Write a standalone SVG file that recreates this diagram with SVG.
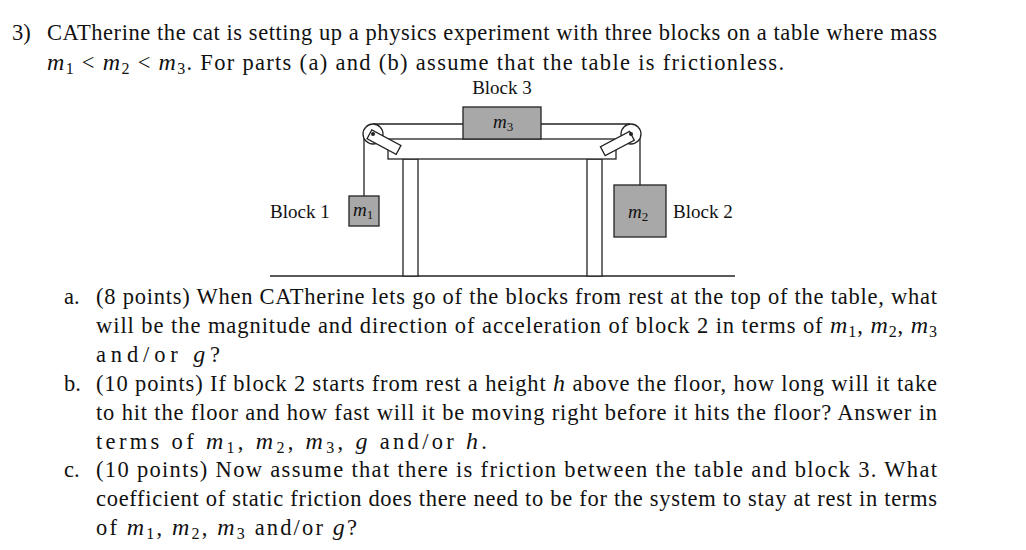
<svg xmlns="http://www.w3.org/2000/svg" width="1026" height="550" viewBox="0 0 1026 550">
<style>
text{font-family:"Liberation Serif","Times New Roman",serif;font-size:22.5px;fill:#111}
.m{font-style:italic;font-size:24px}
.s{font-size:16px}
.lbl{font-size:19px}
.sh{fill:#fff;stroke:#222;stroke-width:1.3}
.blk{fill:#a8a8a8;stroke:#222;stroke-width:1.3}
.rope{stroke:#222;stroke-width:1.3;fill:none}
</style>
<rect width="1026" height="550" fill="#fff"/>
<text x="12" y="40">3)</text>
<text x="47" y="40" textLength="890" lengthAdjust="spacing">CATherine the cat is setting up a physics experiment with three blocks on a table where mass</text>
<text x="47" y="70" textLength="737" lengthAdjust="spacing"><tspan class="m">m</tspan><tspan class="s" dy="4">1</tspan><tspan dy="-4"> &lt; </tspan><tspan class="m">m</tspan><tspan class="s" dy="4">2</tspan><tspan dy="-4"> &lt; </tspan><tspan class="m">m</tspan><tspan class="s" dy="4">3</tspan><tspan dy="-4">. For parts (a) and (b) assume that the table is frictionless.</tspan></text>
<g id="floor"><line class="rope" x1="270" y1="276" x2="735" y2="276"/></g>
<g id="table">
<rect class="sh" x="403" y="159" width="15" height="117"/>
<rect class="sh" x="587" y="159" width="15" height="117"/>
<rect class="sh" x="388" y="139" width="228" height="20"/>
</g>
<g id="connectors">
<line class="rope" x1="373" y1="124" x2="463" y2="124"/>
<line class="rope" x1="541" y1="124" x2="630" y2="124"/>
<line class="rope" x1="364" y1="134" x2="364" y2="196"/>
<line class="rope" x1="640" y1="134" x2="640" y2="185"/>
</g>
<g id="pulley1">
<circle class="sh" cx="373" cy="134" r="10"/>
<rect class="sh" x="370" y="131" width="33" height="10" transform="rotate(28 373 134)"/>
<circle cx="373" cy="134" r="2" fill="#222"/>
</g>
<g id="pulley2">
<circle class="sh" cx="631" cy="134" r="10"/>
<rect class="sh" x="598" y="131" width="33" height="10" transform="rotate(-28 631 134)"/>
<circle cx="631" cy="134" r="2" fill="#222"/>
</g>
<g id="block3">
<rect class="blk" x="463" y="107" width="78" height="32"/>
<text class="lbl" font-style="italic" x="493" y="128">m<tspan font-style="normal" font-size="13" dy="3">3</tspan></text>
<text class="lbl" x="502" y="94" text-anchor="middle">Block 3</text>
</g>
<g id="block1">
<rect class="blk" x="349" y="196" width="30" height="30"/>
<text class="lbl" font-style="italic" x="353" y="216">m<tspan font-style="normal" font-size="13" dy="3">1</tspan></text>
<text class="lbl" x="270" y="218">Block 1</text>
</g>
<g id="block2">
<rect class="blk" x="614" y="185" width="52" height="52"/>
<text class="lbl" font-style="italic" x="628" y="218">m<tspan font-style="normal" font-size="13" dy="3">2</tspan></text>
<text class="lbl" x="673" y="218">Block 2</text>
</g>
<text x="64" y="304">a.</text>
<text x="96" y="304" textLength="841" lengthAdjust="spacing">(8 points) When CATherine lets go of the blocks from rest at the top of the table, what</text>
<text x="96" y="333" textLength="841" lengthAdjust="spacing">will be the magnitude and direction of acceleration of block 2 in terms of <tspan class="m">m</tspan><tspan class="s" dy="4">1</tspan><tspan dy="-4">, </tspan><tspan class="m">m</tspan><tspan class="s" dy="4">2</tspan><tspan dy="-4">, </tspan><tspan class="m">m</tspan><tspan class="s" dy="4">3</tspan></text>
<text x="96" y="362" textLength="124" lengthAdjust="spacing">and/or <tspan class="m">g</tspan>?</text>
<text x="64" y="391">b.</text>
<text x="96" y="391" textLength="841" lengthAdjust="spacing">(10 points) If block 2 starts from rest a height <tspan class="m">h</tspan> above the floor, how long will it take</text>
<text x="96" y="420" textLength="841" lengthAdjust="spacing">to hit the floor and how fast will it be moving right before it hits the floor? Answer in</text>
<text x="96" y="449" textLength="391" lengthAdjust="spacing">terms of <tspan class="m">m</tspan><tspan class="s" dy="4">1</tspan><tspan dy="-4">, </tspan><tspan class="m">m</tspan><tspan class="s" dy="4">2</tspan><tspan dy="-4">, </tspan><tspan class="m">m</tspan><tspan class="s" dy="4">3</tspan><tspan dy="-4">, </tspan><tspan class="m">g</tspan> and/or <tspan class="m">h</tspan>.</text>
<text x="64" y="477">c.</text>
<text x="96" y="477" textLength="841" lengthAdjust="spacing">(10 points) Now assume that there is friction between the table and block 3. What</text>
<text x="96" y="506" textLength="841" lengthAdjust="spacing">coefficient of static friction does there need to be for the system to stay at rest in terms</text>
<text x="96" y="535" textLength="261" lengthAdjust="spacing">of <tspan class="m">m</tspan><tspan class="s" dy="4">1</tspan><tspan dy="-4">, </tspan><tspan class="m">m</tspan><tspan class="s" dy="4">2</tspan><tspan dy="-4">, </tspan><tspan class="m">m</tspan><tspan class="s" dy="4">3</tspan><tspan dy="-4"> and/or </tspan><tspan class="m">g</tspan>?</text>
</svg>
